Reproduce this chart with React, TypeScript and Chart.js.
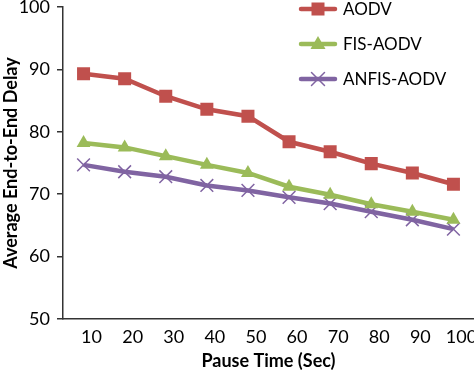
import React, { useEffect, useRef } from "react";
import { Chart, registerables } from "chart.js";

Chart.register(...registerables);

const categories = ["10", "20", "30", "40", "50", "60", "70", "80", "90", "100"];
const aodv = [89.3, 88.5, 85.7, 83.6, 82.5, 78.4, 76.8, 74.9, 73.4, 71.6];
const fisAodv = [78.2, 77.5, 76.1, 74.7, 73.4, 71.2, 69.9, 68.4, 67.2, 65.9];
const anfisAodv = [74.7, 73.6, 72.8, 71.4, 70.6, 69.5, 68.5, 67.2, 65.9, 64.4];
const seriesNames = ["AODV", "FIS-AODV", "ANFIS-AODV"];
const yTicks = [50, 60, 70, 80, 90, 100];

const RED = "#C0504D";
const GREEN = "#9BBB59";
const PURPLE = "#8064A2";
const AXIS = "#333333";
const FONT = "Lato, 'Open Sans', sans-serif";

const legendPlugin = {
  id: "customLegend",
  afterDraw(chart: any) {
    const ctx = chart.ctx as CanvasRenderingContext2D;
    const rows = [
      { name: seriesNames[0], color: RED, y: 9, shape: "rect" },
      { name: seriesNames[1], color: GREEN, y: 44, shape: "tri" },
      { name: seriesNames[2], color: PURPLE, y: 79, shape: "x" },
    ];
    ctx.save();
    rows.forEach((r) => {
      ctx.strokeStyle = r.color;
      ctx.lineWidth = 4.5;
      ctx.lineCap = "round";
      ctx.beginPath();
      ctx.moveTo(301, r.y);
      ctx.lineTo(335, r.y);
      ctx.stroke();
      const cx = 318;
      ctx.fillStyle = r.color;
      if (r.shape === "rect") {
        ctx.fillRect(cx - 6.5, r.y - 6.5, 13, 13);
      } else if (r.shape === "tri") {
        ctx.beginPath();
        ctx.moveTo(cx, r.y - 8);
        ctx.lineTo(cx + 7.5, r.y + 5);
        ctx.lineTo(cx - 7.5, r.y + 5);
        ctx.closePath();
        ctx.fill();
      } else {
        ctx.lineWidth = 1.5;
        ctx.beginPath();
        ctx.moveTo(cx - 6.5, r.y - 6.5);
        ctx.lineTo(cx + 6.5, r.y + 6.5);
        ctx.moveTo(cx + 6.5, r.y - 6.5);
        ctx.lineTo(cx - 6.5, r.y + 6.5);
        ctx.stroke();
      }
      ctx.fillStyle = "#000";
      ctx.font = `17px ${FONT}`;
      ctx.textBaseline = "middle";
      ctx.textAlign = "left";
      ctx.fillText(r.name, 343, r.y + 1);
    });
    ctx.restore();
  },
};

export default function App() {
  const ref = useRef<HTMLCanvasElement>(null);
  useEffect(() => {
    if (!ref.current) return;
    const chart = new Chart(ref.current, {
      type: "line",
      data: {
        labels: categories,
        datasets: [
          {
            label: seriesNames[0],
            data: aodv,
            borderColor: RED,
            backgroundColor: RED,
            borderWidth: 4.5,
            pointStyle: "rect",
            pointRadius: 9.2,
            pointBorderWidth: 0,
            pointBackgroundColor: RED,
          },
          {
            label: seriesNames[1],
            data: fisAodv,
            borderColor: GREEN,
            backgroundColor: GREEN,
            borderWidth: 4.5,
            pointStyle: "triangle",
            pointRadius: 8,
            pointBorderWidth: 0,
            pointBackgroundColor: GREEN,
          },
          {
            label: seriesNames[2],
            data: anfisAodv,
            borderColor: PURPLE,
            backgroundColor: PURPLE,
            borderWidth: 4.5,
            pointStyle: "crossRot",
            pointRadius: 9,
            pointBorderWidth: 1.5,
            pointBorderColor: PURPLE,
          },
        ],
      },
      options: {
        animation: false,
        responsive: false,
        maintainAspectRatio: false,
        layout: { autoPadding: false, padding: { left: 0, right: 0, top: 7, bottom: 0 } },
        plugins: { legend: { display: false }, tooltip: { enabled: false } },
        scales: {
          x: {
            type: "category",
            offset: true,
            grid: { display: true, drawOnChartArea: false, drawTicks: false },
            border: { color: AXIS, width: 1.5 },
            ticks: {
              color: "#000",
              font: { family: FONT, size: 18 },
              padding: 7,
              labelOffset: 8,
              maxRotation: 0,
              autoSkip: false,
            },
            title: {
              display: true,
              text: "Pause Time (Sec)",
              color: "#000",
              font: { family: FONT, size: 18, weight: "bold", lineHeight: 1 },
              padding: { top: 0, bottom: 0 },
            },
            afterFit: (s: any) => {
              s.height = 51;
              s.paddingRight = 0;
              s.paddingLeft = 0;
            },
          },
          y: {
            min: 50,
            max: 100,
            afterBuildTicks: (s: any) => {
              s.ticks = yTicks.map((v) => ({ value: v }));
            },
            grid: {
              display: true,
              drawOnChartArea: false,
              drawTicks: true,
              tickLength: 6,
              color: AXIS,
              lineWidth: 1.5,
            },
            border: { color: AXIS, width: 1.5 },
            ticks: {
              color: "#000",
              font: { family: FONT, size: 18 },
              padding: 7,
            },
            title: {
              display: true,
              text: "Average End-to-End Delay",
              color: "#000",
              font: { family: FONT, size: 18, weight: "bold" },
              padding: { top: 0, bottom: 0 },
            },
            afterFit: (s: any) => {
              s.width = 63;
              s.paddingTop = 0;
              s.paddingBottom = 0;
            },
          },
        },
      },
      plugins: [legendPlugin],
    } as any);
    return () => chart.destroy();
  }, []);
  return (
    <div style={{ position: "fixed", left: 0, top: 0, width: 474, height: 370, background: "#fff" }}>
      <canvas ref={ref} width={474} height={370} style={{ width: 474, height: 370 }} />
    </div>
  );
}
